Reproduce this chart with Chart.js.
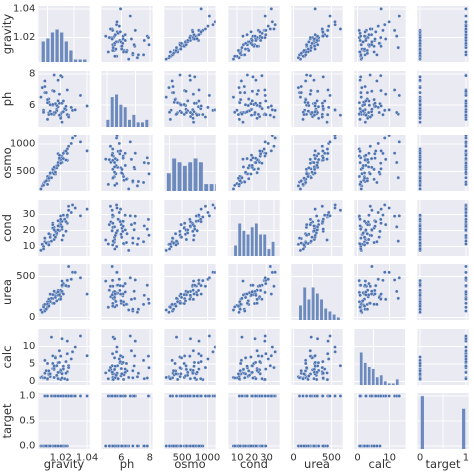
<!DOCTYPE html>
<html>
<head>
<meta charset="utf-8">
<script src="https://cdn.jsdelivr.net/npm/chart.js@4"></script>
<style>
  body { margin: 0; background: #fff; width: 474px; height: 475px; position: relative; overflow: hidden; }
  canvas { position: absolute; }
</style>
</head>
<body>
<script>
const variables = ['gravity', 'ph', 'osmo', 'cond', 'urea', 'calc', 'target'];

const gravity = [1.021,1.017,1.008,1.011,1.005,1.020,1.012,1.029,1.015,1.021,1.011,1.025,1.006,1.007,1.011,1.018,1.007,1.025,1.008,1.014,1.024,1.019,1.014,1.020,1.023,1.017,1.017,1.010,1.015,1.010,1.022,1.021,1.016,1.020,1.008,1.010,1.011,1.014,1.013,1.015,1.025,1.026,1.015,1.021,1.025,1.012,1.019,1.026,1.018,1.016,1.009,1.028,1.031,1.019,1.024,1.035,1.040,1.022,1.018,1.020];
const ph = [4.91,5.74,7.20,5.51,6.52,5.27,5.62,5.67,5.41,6.13,6.19,5.40,7.13,5.68,6.40,5.90,5.55,5.41,7.56,6.94,5.71,6.71,6.00,5.44,5.78,5.98,5.64,6.16,5.53,6.36,6.27,7.82,6.10,5.16,6.81,5.09,5.40,6.05,5.43,7.94,6.98,5.36,6.90,5.53,5.39,6.03,6.13,5.24,7.61,5.53,6.81,5.86,5.70,5.36,5.93,6.63,5.95,5.58,6.28,7.90];
const osmo = [725,577,321,408,187,668,461,1107,543,779,345,907,242,283,372,822,253,703,304,550,710,721,480,781,866,567,608,412,584,361,830,749,457,716,312,269,380,540,390,459,832,1236,577,664,828,475,742,958,662,488,332,1008,1151,796,872,1036,874,734,611,652];
const cond = [14.0,20.0,14.9,12.6,7.5,25.3,17.4,35.9,21.9,25.7,11.5,28.4,11.3,9.9,17.9,26.0,8.4,24.5,12.9,24.5,19.5,23.6,23.6,29.0,27.0,17.6,18.4,11.8,14.3,12.4,29.5,20.8,19.4,23.6,15.2,11.5,10.9,21.4,13.3,17.0,28.9,32.6,20.4,22.2,29.6,15.7,22.6,35.1,22.8,15.8,12.1,31.2,34.0,19.8,25.5,29.1,33.3,16.8,20.3,26.9];
const urea = [443,296,101,224,91,252,195,550,170,382,152,448,64,147,159,329,129,380,160,230,392,221,174,305,393,202,301,191,275,161,412,392,263,332,79,125,138,278,233,173,456,620,319,317,452,284,287,380,270,244,101,465,548,275,387,482,285,286,311,223];
const calc = [2.45,4.49,2.36,2.15,1.16,3.34,1.40,8.48,1.16,2.21,1.93,0.53,1.34,1.02,3.04,5.38,1.02,2.77,6.04,7.31,2.37,8.78,3.69,0.58,0.79,1.61,1.77,0.59,3.46,5.16,3.56,0.99,6.99,3.16,1.06,0.78,2.18,5.14,12.68,3.93,11.55,4.49,4.45,12.21,7.92,2.19,5.45,3.98,0.81,6.76,3.08,6.44,9.84,2.63,5.68,13.00,7.35,4.37,2.60,7.24];
const target = [0,0,0,0,0,0,0,1,0,0,0,0,0,0,0,0,0,1,0,1,0,1,0,0,0,0,0,0,0,0,0,0,0,0,1,1,0,1,1,1,1,1,1,1,1,0,1,1,0,1,0,1,1,1,1,1,1,1,1,1];

const columns = { gravity, ph, osmo, cond, urea, calc, target };

// axis ranges and tick positions for each variable
const ranges = {
  gravity: [1.003, 1.042], ph: [4.6, 8.2], osmo: [150, 1160], cond: [4, 39],
  urea: [-30, 650], calc: [-1, 15], target: [-0.06, 1.06]
};
const xTicks = {
  gravity: [1.02, 1.04], ph: [6, 8], osmo: [500, 1000], cond: [10, 20, 30],
  urea: [0, 500], calc: [0, 10], target: [0, 1]
};
const yTicks = {
  gravity: [1.02, 1.04], ph: [6, 8], osmo: [500, 1000], cond: [10, 20, 30],
  urea: [0, 500], calc: [0, 5, 10], target: [0, 0.5, 1]
};
const yTickLabels = { target: ['0.0', '0.5', '1.0'] };

const BLUE = '#4C72B0';
const LEFT0 = 37, TOP0 = 5, PITCH_X = 63.2, PITCH_Y = 64.5, CW = 54, CH = 58;
const PAD = 15, YAXIS_W = 37, XAXIS_H = 23;

const bgPlugin = {
  id: 'panelBg',
  beforeDraw(chart) {
    const a = chart.chartArea, ctx = chart.ctx;
    ctx.save();
    ctx.fillStyle = '#EAEAF2';
    ctx.fillRect(a.left, a.top, a.right - a.left, a.bottom - a.top);
    ctx.restore();
  }
};

function histogram(values, bins) {
  const lo = Math.min(...values), hi = Math.max(...values);
  const w = (hi - lo) / bins;
  const counts = new Array(bins).fill(0);
  values.forEach(v => counts[Math.min(bins - 1, Math.floor((v - lo) / w))]++);
  return counts.map((c, i) => ({ x: lo + w * (i + 0.5), y: c }));
}

function fmt(name, v) {
  if (name === 'gravity') return v.toFixed(2);
  return String(v);
}

function makeScale(name, ticks, showTicks, title, fixed, isX, labels) {
  return {
    type: 'linear', min: ranges[name][0], max: ranges[name][1], offset: false,
    afterBuildTicks: s => { s.ticks = ticks.map(v => ({ value: v })); },
    afterFit: s => { if (isX) s.height = fixed; else s.width = fixed; },
    grid: { color: '#ffffff', lineWidth: 1, drawTicks: false },
    border: { display: false },
    ticks: {
      display: showTicks, color: '#333', padding: 3, maxRotation: 0, autoSkip: false,
      font: { family: 'DejaVu Sans', size: 10 },
      callback: (v, i) => labels ? labels[i] : fmt(name, v)
    },
    title: { display: !!title, text: title, color: '#333', padding: 0,
             font: { family: 'DejaVu Sans', size: 11.5 } }
  };
}

variables.forEach((rowVar, r) => {
  variables.forEach((colVar, c) => {
    const left = c === 0, bottom = r === 6;
    const canvas = document.createElement('canvas');
    const w = CW + 2 * PAD + (left ? YAXIS_W : 0);
    const h = CH + 2 * PAD + (bottom ? XAXIS_H : 0);
    canvas.width = w;
    canvas.height = h;
    canvas.style.left = (LEFT0 + c * PITCH_X - PAD - (left ? YAXIS_W : 0)) + 'px';
    canvas.style.top = (TOP0 + r * PITCH_Y - PAD) + 'px';
    canvas.style.width = w + 'px';
    canvas.style.height = h + 'px';
    document.body.appendChild(canvas);

    const scales = {
      x: makeScale(colVar, xTicks[colVar], bottom, bottom ? colVar : '', bottom ? XAXIS_H : 0, true),
      y: makeScale(rowVar, yTicks[rowVar], left, left ? rowVar : '', left ? YAXIS_W : 0, false, yTickLabels[rowVar])
    };

    let datasets;
    if (r === c) {
      const counts = histogram(columns[colVar], 10);
      const maxCount = Math.max(...counts.map(p => p.y));
      scales.h = { type: 'linear', display: false, min: 0, max: colVar === 'target' ? maxCount * 1.05 : maxCount * 1.7 };
      datasets = [
        { type: 'bar', data: counts, yAxisID: 'h', backgroundColor: 'rgba(76,114,176,0.8)',
          borderColor: '#EAEAF2', borderWidth: 0.5, barPercentage: 1, categoryPercentage: 0.92 }
      ];
    } else {
      const xs = columns[colVar], ys = columns[rowVar];
      datasets = [{
        type: 'scatter', data: xs.map((x, i) => ({ x, y: ys[i] })),
        backgroundColor: BLUE, borderColor: '#ffffff', borderWidth: 0.3, pointRadius: 1.6
      }];
    }

    new Chart(canvas, {
      data: { datasets },
      options: {
        responsive: false, animation: false, devicePixelRatio: 2,
        layout: { padding: { left: PAD + 1.3, right: PAD + 1.3, top: PAD + 1, bottom: PAD + 1 } },
        plugins: { legend: { display: false }, tooltip: { enabled: false } },
        scales
      },
      plugins: [bgPlugin]
    });
  });
});
</script>
</body>
</html>
